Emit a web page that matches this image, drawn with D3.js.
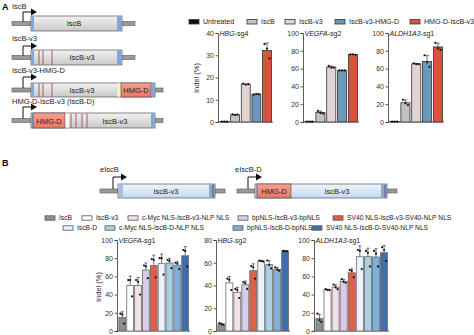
<!DOCTYPE html>
<html><head><meta charset="utf-8">
<script src="https://cdn.jsdelivr.net/npm/d3@7"></script>
<style>body{margin:0;background:#fff}svg{display:block;font-family:Arial,"Liberation Sans",sans-serif}</style>
</head><body><svg id="c" width="474" height="335"></svg>
<script>
// ---------------- DATA ----------------
// Panel A
const seriesA = ["Untreated","IscB","IscB-v3","IscB-v3-HMG-D","HMG-D-IscB-v3"];
const colorsA = ["#111111","#c2c2c2","#e0d3d1","#6b97b8","#d9523b"];
const genesA = ["HBG","VEGFA","ALDH1A3"];
const sgA = ["-sg4","-sg2","-sg1"];
const maxA = [40,100,100];
const ticksA = [[0,10,20,30,40],[0,20,40,60,80,100],[0,20,40,60,80,100]];
const repsA_HBG = [[0.2,0.2,0.2],[3.4,3.2,3.3],[17.3,16.8,17.0],[12.3,12.7,12.5],[35,33,28.5]];
const repsA_VEGFA = [[0.5,0.5,0.5],[12.5,10,9.5],[63,61,61],[58,58,58],[76,76,75.5]];
const repsA_ALDH = [[0.5,0.5,0.5],[25,21,19],[66,65,65],[75,67,62],[89,83,81]];
// Panel B
const seriesB = ["IscB","IscB-v3","c-Myc NLS-IscB-v3-NLP NLS","bpNLS-IscB-v3-bpNLS","SV40 NLS-IscB-v3-SV40-NLP NLS",
                 "IscB-D","c-Myc NLS-IscB-D-NLP NLS","bpNLS-IscB-D-bpNLS","SV40 NLS-IscB-D-SV40-NLP NLS"];
const colorsB = ["#8e8e8e","#ffffff","#f4e0ea","#d8cce8","#df5f48","#eaf2fb","#a8d0e6","#7fb0d8","#3e6eb0"];
const genesB = ["VEGFA","HBG","ALDH1A3"];
const sgB = ["-sg1","-sg2","-sg1"];
const maxB = [100,80,100];
const ticksB = [[0,20,40,60,80,100],[0,20,40,60,80],[0,20,40,60,80,100]];
const repsB_VEGFA = [[19,18,8],[56,56,38],[56,54,40],[72,71,58],[79,78,59],[80,80,62],[78,77,69],[75,74,68],[89,88,71]];
const repsB_HBG = [[7,6,5.5],[46,45,36],[37,36,29],[43,42,37],[57,56,46],[62,61.5,61],[62,58,55],[56,54,53],[70.5,70.3,70.2]];
const repsB_ALDH = [[19,12,10],[46,45,45],[51,48,46],[57,54,53],[67,66,59],[89,88,68],[88,86,71],[88,85,71],[92,89,77]];

// ---------------- DRAW ----------------
const svg = d3.select("#c");
const FONT = 7;

function barChart(o){
  const g = svg.append("g");
  const y = d3.scaleLinear().domain([0,o.max]).range([o.y0,o.y1]);
  const x = d3.scaleBand().domain(d3.range(o.reps.length)).range([o.xa+1.5,o.xe-1]).paddingInner(o.pad).paddingOuter(0.05);
  const ax = g.append("g").attr("transform",`translate(${o.xa},0)`)
    .call(d3.axisLeft(y).tickValues(o.ticks).tickSize(2.5).tickPadding(1.5));
  ax.select(".domain").attr("stroke","#333").attr("stroke-width",0.8);
  ax.selectAll(".tick line").attr("stroke","#333").attr("stroke-width",0.8);
  ax.selectAll(".tick text").attr("font-size",FONT).attr("fill","#333").attr("font-family","Arial,'Liberation Sans',sans-serif");
  g.append("line").attr("x1",o.xa).attr("x2",o.xe).attr("y1",y(0)).attr("y2",y(0)).attr("stroke","#333").attr("stroke-width",0.8);
  const stats = o.reps.map(r=>({m:d3.mean(r), s:d3.deviation(r)||0}));
  const bw = x.bandwidth();
  stats.forEach((st,i)=>{
    const cx = x(i)+bw/2;
    if(st.s>0.3){
      g.append("line").attr("x1",cx).attr("x2",cx).attr("y1",y(st.m)).attr("y2",y(st.m+st.s)).attr("stroke","#333").attr("stroke-width",0.7);
      g.append("line").attr("x1",cx-bw*0.22).attr("x2",cx+bw*0.22).attr("y1",y(st.m+st.s)).attr("y2",y(st.m+st.s)).attr("stroke","#333").attr("stroke-width",0.7);
    }
  });
  g.selectAll("rect.bar").data(stats).join("rect").attr("class","bar")
    .attr("x",(d,i)=>x(i)).attr("width",bw)
    .attr("y",d=>y(d.m)).attr("height",d=>y(0)-y(d.m))
    .attr("fill",(d,i)=>o.colors[i]).attr("stroke",o.stroke).attr("stroke-width",0.8);
  o.reps.forEach((r,i)=>{
    r.forEach((v,j)=>{
      g.append("circle").attr("cx",x(i)+bw/2+(j-1)*bw*0.28).attr("cy",y(v)).attr("r",1.1).attr("fill","#111");
    });
  });
  const t = g.append("text").attr("x",o.xa+1.5).attr("y",o.y1+2.5).attr("font-size",FONT).attr("fill","#222");
  t.append("tspan").attr("font-style","italic").text(o.gene);
  t.append("tspan").text(o.sg);
}

const layA = [{xa:218,xe:273},{xa:303,xe:359},{xa:388,xe:444}];
[repsA_HBG,repsA_VEGFA,repsA_ALDH].forEach((reps,k)=>{
  barChart({xa:layA[k].xa,xe:layA[k].xe,y0:122,y1:33,max:maxA[k],ticks:ticksA[k],reps,colors:colorsA,
    stroke:"#333",pad:0.16,gene:genesA[k],sg:sgA[k]});
});
const layB = [{xa:117,xe:190},{xa:216,xe:290},{xa:314,xe:389}];
[repsB_VEGFA,repsB_HBG,repsB_ALDH].forEach((reps,k)=>{
  barChart({xa:layB[k].xa,xe:layB[k].xe,y0:331,y1:240,max:maxB[k],ticks:ticksB[k],reps,colors:colorsB,
    stroke:"#6a6a6a",pad:0.13,gene:genesB[k],sg:sgB[k]});
});

[[199,78],[101,287]].forEach(([px,py])=>{
  svg.append("text").attr("transform",`translate(${px},${py}) rotate(-90)`).attr("text-anchor","middle")
    .attr("font-size",FONT+0.5).attr("fill","#333").text("Indel (%)");
});

// Legend A
const legAx = [189,247,285,335,410];
seriesA.forEach((s,i)=>{
  svg.append("rect").attr("x",legAx[i]).attr("y",19.5).attr("width",10).attr("height",4.5)
    .attr("fill",colorsA[i]).attr("stroke","#333").attr("stroke-width",0.8);
  svg.append("text").attr("x",legAx[i]+14).attr("y",24.2).attr("font-size",7.1).attr("fill","#222").text(s);
});
// Legend B
const legBx = [45,82,128,238,333,63,105,233,312];
const legBy = [218,218,218,218,218,228,228,228,228];
seriesB.forEach((s,i)=>{
  svg.append("rect").attr("x",legBx[i]).attr("y",legBy[i]-2.2).attr("width",10).attr("height",4.4)
    .attr("fill",colorsB[i]).attr("stroke","#555").attr("stroke-width",0.8);
  svg.append("text").attr("x",legBx[i]+14).attr("y",legBy[i]+2.4).attr("font-size",FONT-0.3).attr("fill","#222").text(s);
});

svg.append("text").attr("x",2).attr("y",10).attr("font-size",9).attr("font-weight","bold").text("A");
svg.append("text").attr("x",2).attr("y",166).attr("font-size",9).attr("font-weight","bold").text("B");

// ---------- Gene diagrams ----------
const defs = svg.append("defs");
function grad(id,c1,c2){
  const lg = defs.append("linearGradient").attr("id",id).attr("x1",0).attr("y1",0).attr("x2",0).attr("y2",1);
  lg.append("stop").attr("offset","0%").attr("stop-color",c1);
  lg.append("stop").attr("offset","100%").attr("stop-color",c2);
}
grad("gg","#f2f2f2","#c9c9c9");
grad("gb","#eef5fc","#c4d9f0");
grad("gh","#f6a092","#ea7563");

function promoter(px, yStub, yTop){
  svg.append("path").attr("d",`M${px},${yStub} V${yTop} H${px+9}`).attr("fill","none").attr("stroke","#111").attr("stroke-width",1);
  svg.append("path").attr("d",`M${px+8},${yTop-3.5} L${px+14},${yTop} L${px+8},${yTop+3.5} Z`).attr("fill","#111");
}
function stub(x1,x2,yc){
  svg.append("rect").attr("x",x1).attr("y",yc-2).attr("width",x2-x1).attr("height",4).attr("fill","#9a9a9a").attr("stroke","#555").attr("stroke-width",0.6);
}
function box(x1,x2,y1,y2,fill){
  svg.append("rect").attr("x",x1).attr("y",y1).attr("width",x2-x1).attr("height",y2-y1).attr("fill",fill).attr("stroke","#555").attr("stroke-width",0.7);
}
function band(x1,x2,y1,y2,fill){
  svg.append("rect").attr("x",x1).attr("y",y1+0.4).attr("width",x2-x1).attr("height",y2-y1-0.8).attr("fill",fill);
}
function vline(x,y1,y2,c){
  svg.append("line").attr("x1",x).attr("x2",x).attr("y1",y1+0.4).attr("y2",y2-0.4).attr("stroke",c).attr("stroke-width",0.9);
}
function label(t,x,y,anchor){
  svg.append("text").attr("x",x).attr("y",y).attr("font-size",7.5).attr("fill","#222").attr("text-anchor",anchor||"start").text(t);
}
const red = "#a5474a";
label("IscB",12,9);
stub(12,31,23.5); stub(121,135,23.5);
box(31,122,16,31,"url(#gg)");
band(31.5,34,16,31,"#7fa8d8"); band(117,121.5,16,31,"#7fa8d8");
label("IscB",74,26,"middle");
promoter(23,21.5,12);

label("IscB-v3",12,41);
stub(12,31,57.5); stub(121,135,57.5);
box(31,122,50,65,"url(#gg)");
band(31.5,34,50,65,"#7fa8d8"); band(117,121.5,50,65,"#7fa8d8");
[39,43,52].forEach(xx=>vline(xx,50,65,red));
label("IscB-v3",82,60,"middle");
promoter(23,55.5,46);

label("IscB-v3-HMG-D",12,73);
stub(12,31,90); stub(154,163,90);
box(31,155,83,97,"url(#gg)");
band(31.5,34,83,97,"#7fa8d8");
[39,43,52].forEach(xx=>vline(xx,83,97,red));
band(117,121,83,97,"#fbf0c8");
box(121,151,83,97,"url(#gh)");
band(151,154.5,83,97,"#7fa8d8");
label("IscB-v3",82,93,"middle");
label("HMG-D",136,93,"middle");
promoter(23,88,77);

label("HMG-D-IscB-v3 (IscB-D)",12,104);
stub(12,31,120.5); stub(154,163,120.5);
box(31,155,113,128,"url(#gg)");
band(31.5,33.5,113,128,"#7fa8d8");
box(33,65,113,128,"url(#gh)");
band(65.5,69,113,128,"#fbf8ee");
[71,76,82,87].forEach(xx=>vline(xx,113,128,red));
band(151,154.5,113,128,"#7fa8d8");
label("HMG-D",49,123.5,"middle");
label("IscB-v3",115,123.5,"middle");
promoter(23,118.5,107);

label("eIscB",100,172);
stub(100,118,191); stub(214,225,191);
box(118,215,184,198,"url(#gb)");
band(118.5,123,184,198,"#a6bfe0");
band(209,212,184,198,"#8ea8cc"); band(212,214.5,184,198,"#6c7fa6");
label("IscB-v3",166,194,"middle");
promoter(113,189,177);

label("eIscB-D",235,172);
stub(237,255,191); stub(386,397,191);
box(255,387,184,198,"url(#gb)");
band(255.5,257,184,198,"#a6bfe0");
box(257,291,184,198,"url(#gh)");
band(381,384,184,198,"#8ea8cc"); band(384,386.5,184,198,"#6c7fa6");
label("HMG-D",274,194,"middle");
label("IscB-v3",337,194,"middle");
promoter(248,189,177);
</script></body></html>
